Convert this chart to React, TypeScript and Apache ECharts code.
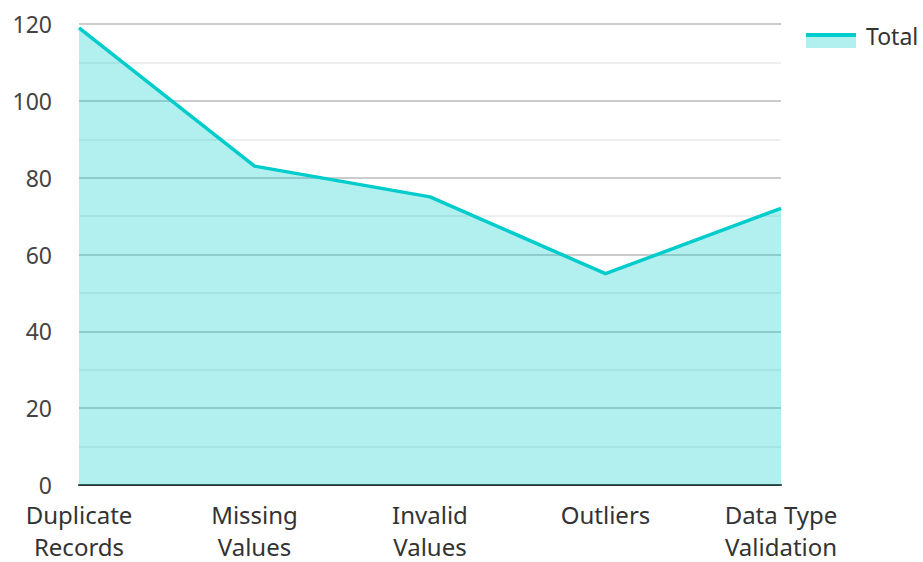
import React, { useEffect, useRef } from "react";
import * as echarts from "echarts";

const categories = ["Duplicate\nRecords", "Missing\nValues", "Invalid\nValues", "Outliers", "Data Type\nValidation"];
const totals = [119, 83, 75, 55, 72];
const seriesName = "Total";

export default function App() {
  const ref = useRef<HTMLDivElement>(null);
  useEffect(() => {
    if (!ref.current) return;
    const chart = echarts.init(ref.current, null, { renderer: "svg" });
    const font = "'Noto Sans', 'Open Sans', sans-serif";
    chart.setOption({
      animation: false,
      textStyle: { fontFamily: font },
      grid: { left: 79, right: 142, top: 24, bottom: 72, containLabel: false },
      legend: {
        show: true,
        left: 806,
        top: 24,
        padding: 0,
        itemWidth: 50,
        itemHeight: 15,
        itemGap: 10,
        formatter: "{t|{name}}",
        textStyle: {
          fontSize: 23,
          color: "#333",
          fontFamily: font,
          rich: {
            t: { fontSize: 23, lineHeight: 23, color: "#333", fontFamily: font, padding: [0, 0, 10, 5] },
          },
        },
        data: [
          {
            name: seriesName,
            icon: "rect",
            itemStyle: {
              color: new echarts.graphic.LinearGradient(0, 0, 0, 1, [
                { offset: 0, color: "#00cccc" },
                { offset: 0.24, color: "#00cccc" },
                { offset: 0.24, color: "#b2efef" },
                { offset: 1, color: "#b2efef" },
              ]),
            },
          },
        ],
      },
      xAxis: {
        type: "category",
        data: categories,
        boundaryGap: false,
        axisLine: { show: true, lineStyle: { color: "#333", width: 2 } },
        axisTick: { show: false },
        axisLabel: { fontSize: 24, color: "#333", margin: 13, lineHeight: 32, fontFamily: font, interval: 0 },
        splitLine: { show: false },
      },
      yAxis: {
        type: "value",
        min: 0,
        max: 120,
        interval: 20,
        axisLine: { show: false },
        axisTick: { show: false },
        axisLabel: { fontSize: 23, color: "#444", margin: 27, fontFamily: font },
        splitLine: { show: true, lineStyle: { color: "#cccccc", width: 2 } },
        minorTick: { show: false, splitNumber: 2 },
        minorSplitLine: { show: true, lineStyle: { color: "#eeeeee", width: 2 } },
      },
      series: [
        {
          name: seriesName,
          type: "line",
          data: totals,
          symbol: "none",
          lineStyle: { color: "#00cccc", width: 3.5 },
          itemStyle: { color: "#00cccc" },
          areaStyle: { color: "#00cccc", opacity: 0.3 },
        },
      ],
    });
    return () => chart.dispose();
  }, []);
  return <div ref={ref} style={{ width: 923, height: 562, position: "absolute", left: 0, top: 0 }} />;
}
